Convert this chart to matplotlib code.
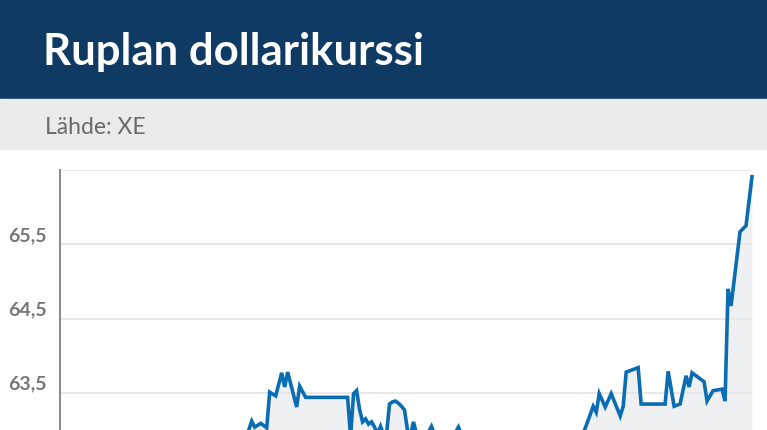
import numpy as np
import matplotlib.pyplot as plt

# paiva (indeksi) ja ruplan dollarikurssi
day = [0, 3, 6, 9, 12, 15, 18, 21, 24, 27, 30, 33, 36, 39, 42, 45, 48, 51, 54, 57, 60, 62,
       63, 64, 65, 67, 69, 70, 72, 74, 75, 76, 79, 80, 82, 96,
       97, 98, 99, 100, 101, 102, 103, 104, 105, 106, 107, 108, 109,
       110, 111, 112, 113, 114, 115, 116, 117, 118, 119, 120, 122, 124, 126, 128, 131, 133, 135,
       138, 141, 144, 147, 150, 153, 156, 159, 162, 165, 168, 171, 173,
       175, 178, 179, 180, 182, 184, 187, 188, 189, 193, 194, 202, 203, 205, 207,
       209, 210, 211, 215, 216, 218, 221, 222, 223, 224, 227, 229, 231]
rate = [62.35, 62.5, 62.4, 62.6, 62.55, 62.7, 62.5, 62.45, 62.6, 62.75, 62.6, 62.5, 62.65, 62.7,
        62.55, 62.6, 62.8, 62.7, 62.65, 62.8, 62.85, 62.9,
        63.0, 63.12, 63.04, 63.09, 63.03, 63.51, 63.46, 63.77, 63.58, 63.78, 63.31, 63.59, 63.44, 63.44,
        62.92, 63.49, 63.53, 63.28, 63.11, 63.15, 63.08, 63.11, 63.04, 62.95, 63.05, 62.94, 62.95,
        63.35, 63.38, 63.39, 63.36, 63.32, 63.27, 63.0, 62.93, 63.11, 62.95, 62.85, 62.9, 63.05,
        62.85, 62.8, 62.9, 63.04, 62.85,
        62.75, 62.7, 62.65, 62.75, 62.8, 62.7, 62.6, 62.7, 62.75, 62.7, 62.8, 62.85, 62.9,
        62.99, 63.32, 63.24, 63.49, 63.31, 63.49, 63.19, 63.32, 63.78, 63.84, 63.35, 63.35, 63.79,
        63.32, 63.35, 63.73, 63.58, 63.77, 63.65, 63.39, 63.53, 63.55, 63.39, 64.90, 64.67,
        65.67, 65.75, 66.41]

yticks = [63.5, 64.5, 65.5, 66.5]
ylabels = ['63,5', '64,5', '65,5', '']

W, H = 767, 431
fig = plt.figure(figsize=(W / 100, H / 100), dpi=100)

# otsikkopalkki ja lahdepalkki
fig.patches.append(plt.Rectangle((0, 1 - 100 / H), 1, 100 / H, transform=fig.transFigure,
                                 color='#0e3a64', zorder=0))
fig.patches.append(plt.Rectangle((0, 1 - 150 / H), 1, 50 / H, transform=fig.transFigure,
                                 color='#ebebeb', zorder=0))
fig.text(43 / W, 1 - 52 / H, 'Ruplan dollarikurssi', color='white', fontsize=31.5,
         fontweight='bold', family='Lato', va='center', ha='left')
fig.text(45 / W, 1 - 128 / H, 'Lähde: XE', color='#6b6b6b', fontsize=16.5,
         family='Lato', va='center', ha='left')

# akselit jatkuvat kuvan alareunan yli
top = 171
bottom = 171 + 74.3 * 4.5
axw = 752 - 60
ax = fig.add_axes([60 / W, 1 - bottom / H, axw / W, (bottom - top) / H])
ax.set_xlim(0, 231)
ax.set_ylim(62.0, 66.5)

ax.fill_between(day, rate, 62.0, color='#eef0f1', zorder=1, linewidth=0)
ax.plot(day, rate, color='#0a6db3', linewidth=2.6, solid_joinstyle='miter', zorder=3,
        clip_on=False)

ax.set_yticks(yticks)
ax.set_yticklabels([])
for v, lab in zip(yticks, ylabels):
    ax.axhline(v, color='#e6e6e6', linewidth=1.3, zorder=2)
    ax.text(-13 / axw, v + 0.02, lab, ha='right', va='bottom', color='#777777', fontsize=14,
            fontweight='bold', family='Lato', transform=ax.get_yaxis_transform())

ax.tick_params(left=False, bottom=False, labelbottom=False)
ax.set_xticks([])
for s in ['top', 'right', 'bottom']:
    ax.spines[s].set_visible(False)
ax.spines['left'].set_color('#888888')
ax.spines['left'].set_linewidth(1.4)
ax.spines['left'].set_zorder(4)

fig.savefig('out.png', dpi=100)
